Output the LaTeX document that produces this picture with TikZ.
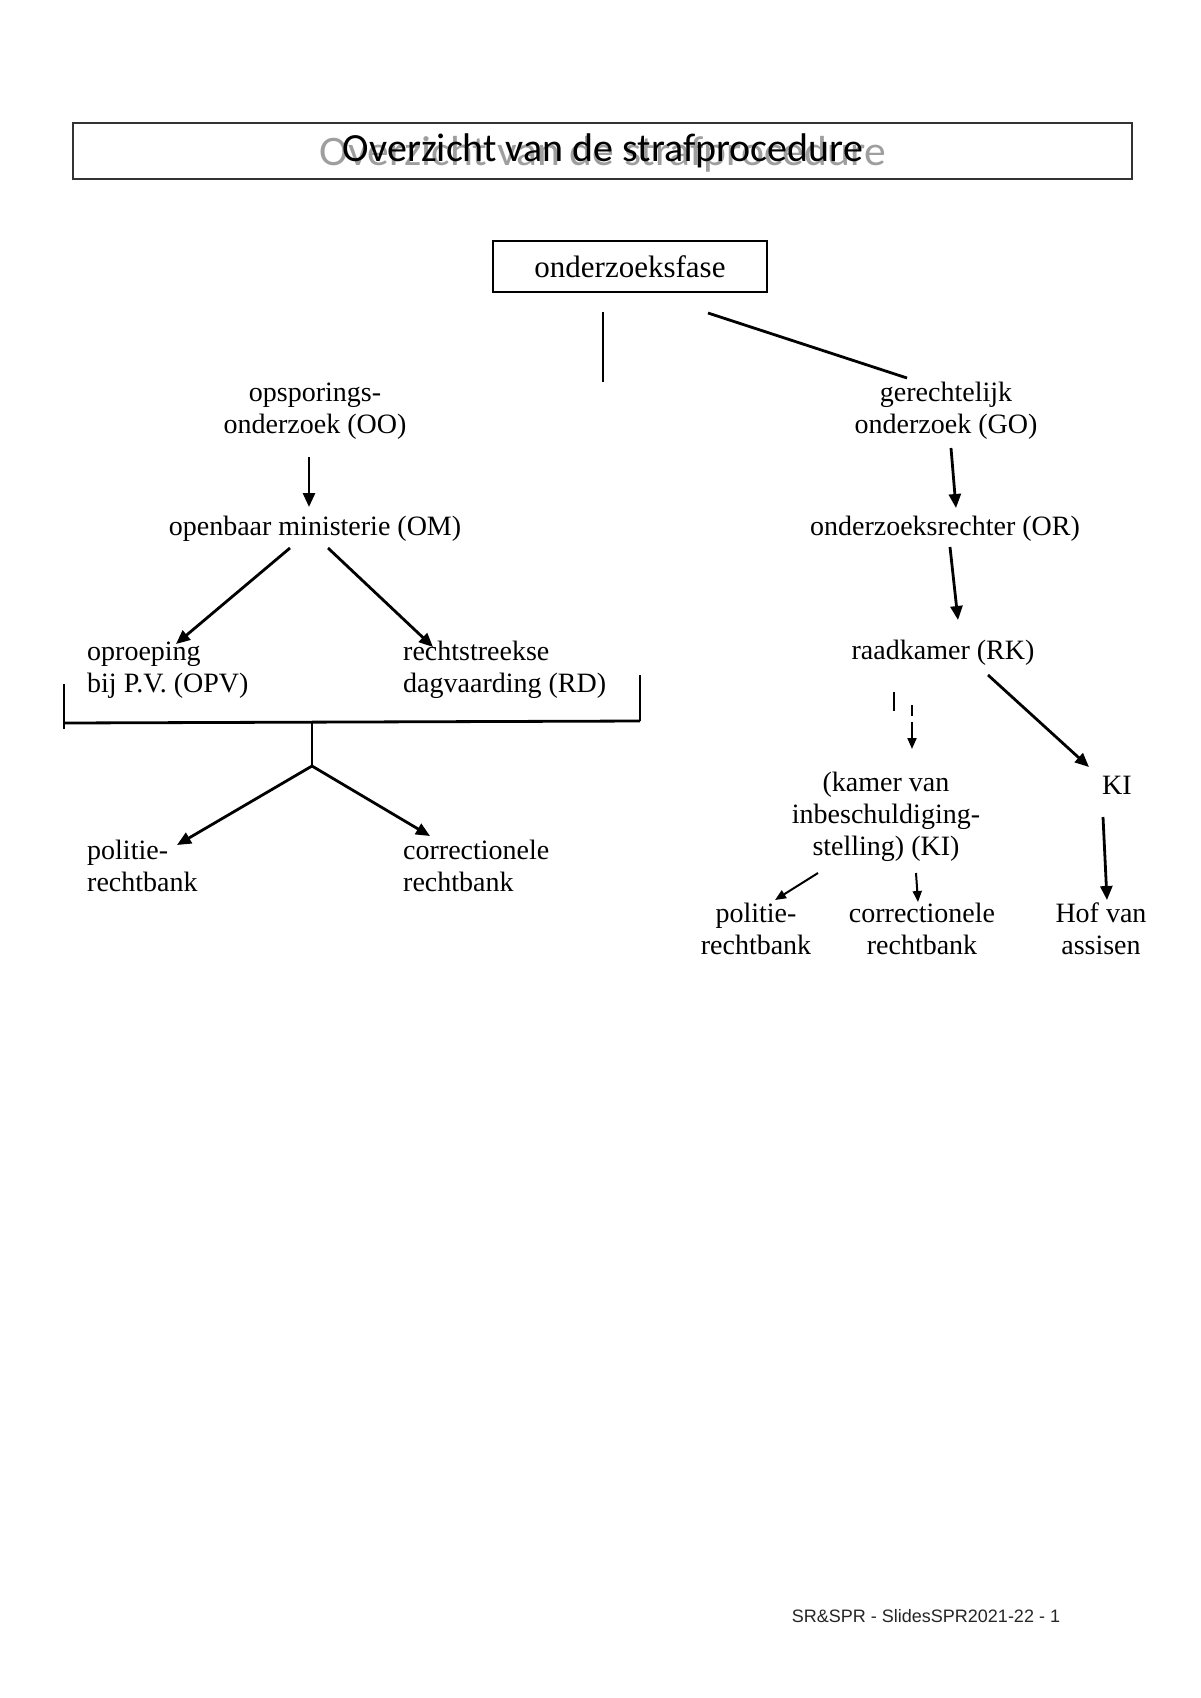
\documentclass[tikz,border=0pt]{standalone}
\usepackage{fontspec}
\setmainfont{Liberation Serif}
\newfontfamily\titlefont{Carlito}
\newfontfamily\footfont{Liberation Sans}
\usetikzlibrary{arrows.meta}
\begin{document}
\begin{tikzpicture}[x=1pt,y=-1pt,
  lbl/.style={font=\fontsize{28}{32}\selectfont, inner sep=0pt, align=center},
  lbll/.style={lbl, align=left, anchor=west},
  conn/.style={line width=2.8pt},
  thin conn/.style={line width=2pt},
  arr/.style={conn, -{Triangle[length=14pt,width=12pt]}},
  small arr/.style={thin conn, -{Triangle[length=11pt,width=9pt]}},
]
\useasboundingbox (0,0) rectangle (1200,1698);
\fill[white] (0,0) rectangle (1200,1698);

% title
\node[draw=black!80, line width=1.6pt, minimum width=1059pt, minimum height=56pt, inner sep=0pt] (titlebox) at (602.5,151) {};
\node[text=black!38, inner sep=0pt, font=\titlefont\fontsize{40}{40}\selectfont] (titleshadow) at (603,154) {\scalebox{1.09}[1.05]{Overzicht van de strafprocedure}};
\node[inner sep=0pt, font=\titlefont\fontsize{40}{40}\selectfont] (title) at (603,151) {Overzicht van de strafprocedure};

% top box
\node[draw, line width=2.6pt, minimum width=274pt, minimum height=51pt, inner sep=0pt, font=\fontsize{31}{36}\selectfont] (fase) at (630,266.5) {onderzoeksfase};

% labels
\node[lbl] (oo) at (315,411) {opsporings-\\onderzoek (OO)};
\node[lbl] (go) at (946,411) {gerechtelijk\\onderzoek (GO)};
\node[lbl] (om) at (315,529) {openbaar ministerie (OM)};
\node[lbl] (or) at (945,529) {onderzoeksrechter (OR)};
\node[lbll] (opv) at (87,670) {oproeping\\bij P.V. (OPV)};
\node[lbll] (rd) at (403,670) {rechtstreekse\\dagvaarding (RD)};
\node[lbll] (pol1) at (87,866) {politie-\\rechtbank};
\node[lbll] (cor1) at (403,866) {correctionele\\rechtbank};
\node[lbl] (rk) at (943,653) {raadkamer (RK)};
\node[lbl] (kamer) at (886,817) {(kamer van\\inbeschuldiging-\\stelling) (KI)};
\node[lbl] (ki) at (1117,785) {KI};
\node[lbl] (pol2) at (756,929) {politie-\\rechtbank};
\node[lbl] (cor2) at (922,929) {correctionele\\rechtbank};
\node[lbl] (hof) at (1101,929) {Hof van\\assisen};

% footer
\node[inner sep=0pt, text=black!85, font=\footfont\fontsize{18}{20}\selectfont] (footer) at (926,1616) {SR\&SPR - SlidesSPR2021-22 - 1};

% connector end points
\coordinate (f1) at (603,312); \coordinate (f1e) at (603,382);
\coordinate (f2) at (708,313); \coordinate (f2e) at (907,378);
\coordinate (oo1) at (309,457); \coordinate (om0) at (309,507);
\coordinate (go1) at (951,448); \coordinate (or0) at (956,508);
\coordinate (or1) at (950,547); \coordinate (rk0) at (958,620);
\coordinate (om1) at (290,548); \coordinate (opv0) at (176,644);
\coordinate (om2) at (328,548); \coordinate (rd0) at (433,647);
\coordinate (bl1) at (64,684); \coordinate (bl2) at (64,729);
\coordinate (bh1) at (64,723); \coordinate (bh2) at (640,721);
\coordinate (br1) at (640,675);
\coordinate (st1) at (312,722); \coordinate (st2) at (312,766);
\coordinate (pol1a) at (177,845); \coordinate (cor1a) at (430,836);
\coordinate (rka) at (894,692); \coordinate (rkb) at (894,711);
\coordinate (rkc) at (912,705); \coordinate (rkd) at (912,716);
\coordinate (rke) at (912,722); \coordinate (kam0) at (912,749);
\coordinate (rk1) at (988,675); \coordinate (ki0) at (1089,767);
\coordinate (kam1) at (818,873); \coordinate (pol2a) at (775,900);
\coordinate (kam2) at (916,873); \coordinate (cor2a) at (918,902);
\coordinate (ki1) at (1103,817); \coordinate (hof0) at (1107,900);

% connectors
\draw[conn] (f1) -- (f1e);
\draw[conn] (f2) -- (f2e);
\draw[arr] (oo1) -- (om0);
\draw[arr] (go1) -- (or0);
\draw[arr] (or1) -- (rk0);
\draw[arr] (om1) -- (opv0);
\draw[arr] (om2) -- (rd0);
\draw[conn] (bl1) -- (bl2);
\draw[conn] (bh1) -- (bh2);
\draw[conn] (br1) -- (bh2);
\draw[conn] (st1) -- (st2);
\draw[arr] (st2) -- (pol1a);
\draw[arr] (st2) -- (cor1a);
\draw[thin conn] (rka) -- (rkb);
\draw[thin conn] (rkc) -- (rkd);
\draw[small arr] (rke) -- (kam0);
\draw[arr] (rk1) -- (ki0);
\draw[small arr] (kam1) -- (pol2a);
\draw[small arr] (kam2) -- (cor2a);
\draw[arr] (ki1) -- (hof0);
\end{tikzpicture}
\end{document}
